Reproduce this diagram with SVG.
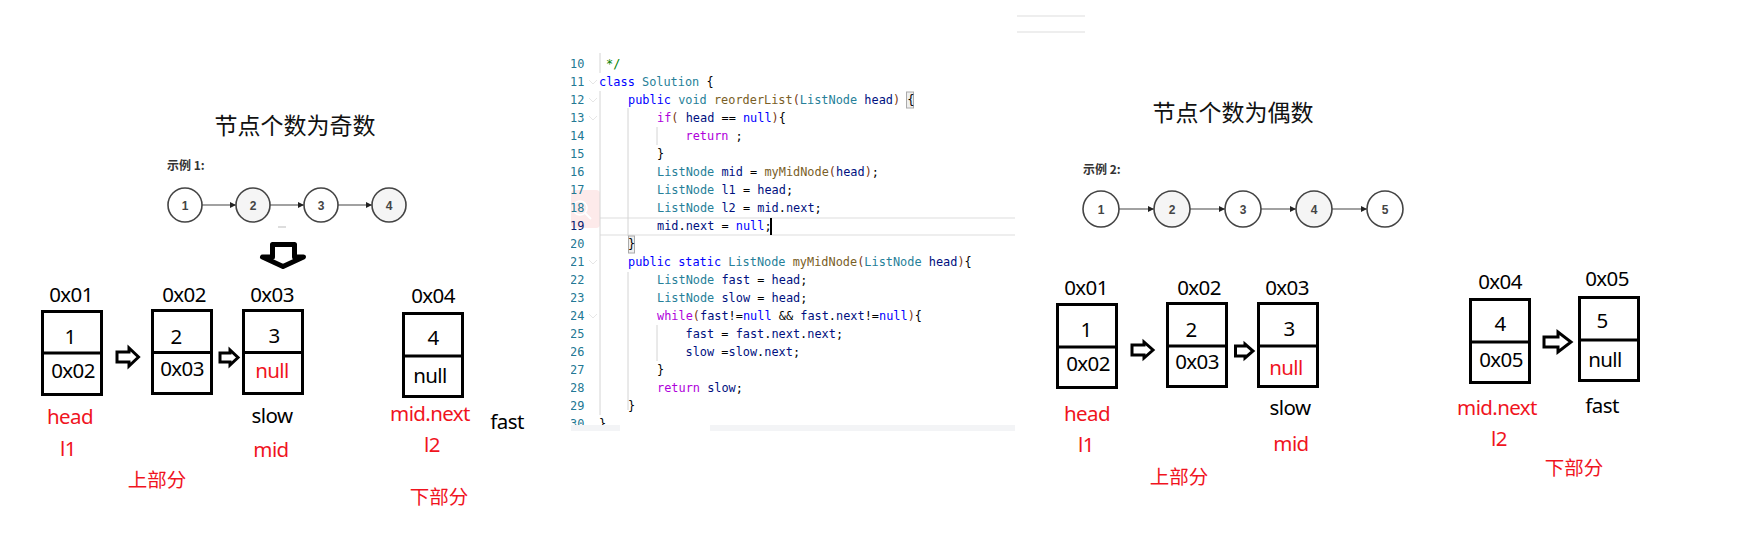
<svg xmlns="http://www.w3.org/2000/svg" width="1744" height="558" viewBox="0 0 1744 558">
<style>
.l{font:20.5px "Noto Sans","Noto Sans CJK SC",sans-serif;letter-spacing:-.6px;fill:#000;text-anchor:middle}
.r{fill:#f0141e}
.h{font:23px "Noto Sans CJK SC",sans-serif;fill:#111;text-anchor:middle}
.z{font:19.500px "Noto Sans CJK SC",sans-serif;fill:#f0141e;text-anchor:middle}
.e{font:bold 12px "Noto Sans CJK SC",sans-serif;fill:#333}
.cn{font:bold 12px "Liberation Sans",sans-serif;fill:#444;text-anchor:middle}
.box{fill:#fff;stroke:#000;stroke-width:3}
.c{fill:#fff;stroke:#444;stroke-width:1.600}
.g{fill:#f5f5f5}
.fat{fill:#fff;stroke:#000;stroke-width:3}
.big{fill:#fff;stroke:#000;stroke-width:5;stroke-linejoin:round}
.ln{stroke:#444;stroke-width:1.200;marker-end:url(#m)}
.code{font:11.900px "DejaVu Sans Mono","Liberation Mono",monospace;fill:#000}
.n{fill:#237893}
.k{fill:#0000ff}.q{fill:#af00db}.t{fill:#267f99}.f{fill:#795e26}.v{fill:#001080}.b{fill:#7b3814}.m{fill:#008000}
.gd{stroke:#d4d4d4;stroke-width:1;fill:none}
.hl{stroke:#eee;stroke-width:2;fill:none}
</style>
<defs>
<marker id="m" markerWidth="7" markerHeight="6" refX="6" refY="3" orient="auto" markerUnits="userSpaceOnUse"><path d="M0 0L6 3L0 6Z" fill="#222"/></marker>
<clipPath id="cc"><rect x="571" y="50" width="445" height="375"/></clipPath>
</defs>
<rect width="1744" height="558" fill="#fff"/>

<g id="code-panel">
<path d="M1017 16H1085M1017 32H1085" class="hl"/>
<rect x="571" y="190" width="29" height="38" rx="4" fill="#fdeaea"/>
<circle cx="580" cy="208" r="7" fill="none" stroke="#fff" stroke-width="1.500"/>
<path d="M585 213L591 219" stroke="#fff" stroke-width="2"/>
<path d="M600 218H1015M600 235H1015" class="hl"/>
<path d="M600 53V73M600 91V415M628 108V236M628 272V410M657 127V145M657 325V361" class="gd"/>
<path d="M589 80l4 4 4-4M589 98l4 4 4-4M589 116l4 4 4-4M589 260l4 4 4-4M589 314l4 4 4-4" fill="none" stroke="#e6e6e6"/>
<rect x="906.500" y="92" width="7" height="16" fill="#efefef" stroke="#aaa"/>
<rect x="628.500" y="236" width="6" height="17" fill="#efefef" stroke="#aaa"/>
<g clip-path="url(#cc)" class="code">
<text class="n" x="570" y="68">10</text>
<text class="n" x="570" y="86">11</text>
<text class="n" x="570" y="104">12</text>
<text class="n" x="570" y="122">13</text>
<text class="n" x="570" y="140">14</text>
<text class="n" x="570" y="158">15</text>
<text class="n" x="570" y="176">16</text>
<text class="n" x="570" y="194">17</text>
<text class="n" x="570" y="212">18</text>
<text x="570" y="230" style="fill:#0b216f">19</text>
<text class="n" x="570" y="248">20</text>
<text class="n" x="570" y="266">21</text>
<text class="n" x="570" y="284">22</text>
<text class="n" x="570" y="302">23</text>
<text class="n" x="570" y="320">24</text>
<text class="n" x="570" y="338">25</text>
<text class="n" x="570" y="356">26</text>
<text class="n" x="570" y="374">27</text>
<text class="n" x="570" y="392">28</text>
<text class="n" x="570" y="410">29</text>
<text class="n" x="570" y="428">30</text>
<text x="606" y="68"><tspan class="m">*/</tspan></text>
<text x="599" y="86"><tspan class="k">class</tspan> <tspan class="t">Solution</tspan> {</text>
<text x="628" y="104"><tspan class="k">public</tspan> <tspan class="t">void</tspan> <tspan class="f">reorderList</tspan><tspan class="b">(</tspan><tspan class="t">ListNode</tspan> <tspan class="v">head</tspan><tspan class="b">)</tspan> {</text>
<text x="657" y="122"><tspan class="q">if</tspan><tspan class="b">(</tspan> <tspan class="v">head</tspan> == <tspan class="k">null</tspan><tspan class="b">)</tspan>{</text>
<text x="685.500" y="140"><tspan class="q">return</tspan> ;</text>
<text x="657" y="158">}</text>
<text x="657" y="176"><tspan class="t">ListNode</tspan> <tspan class="v">mid</tspan> = <tspan class="f">myMidNode</tspan><tspan class="b">(</tspan><tspan class="v">head</tspan><tspan class="b">)</tspan>;</text>
<text x="657" y="194"><tspan class="t">ListNode</tspan> <tspan class="v">l1</tspan> = <tspan class="v">head</tspan>;</text>
<text x="657" y="212"><tspan class="t">ListNode</tspan> <tspan class="v">l2</tspan> = <tspan class="v">mid</tspan>.<tspan class="v">next</tspan>;</text>
<text x="657" y="230"><tspan class="v">mid</tspan>.<tspan class="v">next</tspan> = <tspan class="k">null</tspan>;</text>
<text x="628" y="248">}</text>
<text x="628" y="266"><tspan class="k">public</tspan> <tspan class="k">static</tspan> <tspan class="t">ListNode</tspan> <tspan class="f">myMidNode</tspan><tspan class="b">(</tspan><tspan class="t">ListNode</tspan> <tspan class="v">head</tspan><tspan class="b">)</tspan>{</text>
<text x="657" y="284"><tspan class="t">ListNode</tspan> <tspan class="v">fast</tspan> = <tspan class="v">head</tspan>;</text>
<text x="657" y="302"><tspan class="t">ListNode</tspan> <tspan class="v">slow</tspan> = <tspan class="v">head</tspan>;</text>
<text x="657" y="320"><tspan class="q">while</tspan><tspan class="b">(</tspan><tspan class="v">fast</tspan>!=<tspan class="k">null</tspan> &amp;&amp; <tspan class="v">fast</tspan>.<tspan class="v">next</tspan>!=<tspan class="k">null</tspan><tspan class="b">)</tspan>{</text>
<text x="685.500" y="338"><tspan class="v">fast</tspan> = <tspan class="v">fast</tspan>.<tspan class="v">next</tspan>.<tspan class="v">next</tspan>;</text>
<text x="685.500" y="356"><tspan class="v">slow</tspan> =<tspan class="v">slow</tspan>.<tspan class="v">next</tspan>;</text>
<text x="657" y="374">}</text>
<text x="657" y="392"><tspan class="q">return</tspan> <tspan class="v">slow</tspan>;</text>
<text x="628" y="410">}</text>
<text x="599" y="428">}</text>
</g>
<rect x="770" y="218" width="2" height="17" fill="#000"/>
<rect x="571" y="425" width="444" height="6" fill="#f3f4f6"/>
<rect x="620" y="425" width="90" height="6" fill="#fff"/>
</g>

<g id="connectors">
<path class="ln" d="M202 205H236"/><path class="ln" d="M270 205H304"/><path class="ln" d="M338 205H372"/>
<path class="ln" d="M1119 209H1154"/><path class="ln" d="M1190 209H1225"/><path class="ln" d="M1261 209H1296"/><path class="ln" d="M1332 209H1367"/>
<path class="big" d="M272.500 244.500H294.500V257H303.500L283 266.500L262.500 257H272.500Z"/>
<path class="fat" d="M117 352H129V348L138.500 357L129 366V362H117Z"/>
<path class="fat" d="M220 353H230V350L238 357.500L230 365V362H220Z"/>
<path class="fat" d="M1132 345H1144V342L1153 350L1144 358V355H1132Z"/>
<path class="fat" d="M1235.500 346H1245V344L1253 351L1245 358V356H1235.500Z"/>
<path class="fat" d="M1544 337H1558V332L1571 342L1558 352V347H1544Z"/>
</g>

<g id="title-odd"><text class="h" x="295" y="134">节点个数为奇数</text><text class="e" x="167" y="170">示例 1:</text><rect x="278" y="226.500" width="8" height="1" fill="#bbb"/></g>
<g id="ex1-1"><circle class="c" cx="185" cy="205" r="17"/><text class="cn" x="185" y="209.500">1</text></g>
<g id="ex1-2"><circle class="c g" cx="253" cy="205" r="17"/><text class="cn" x="253" y="209.500">2</text></g>
<g id="ex1-3"><circle class="c" cx="321" cy="205" r="17"/><text class="cn" x="321" y="209.500">3</text></g>
<g id="ex1-4"><circle class="c g" cx="389" cy="205" r="17"/><text class="cn" x="389" y="209.500">4</text></g>

<g id="odd-1"><text class="l" x="71" y="302">0x01</text><rect class="box" x="42.500" y="311.500" width="59" height="83"/><path class="box" d="M42 353H102"/><text class="l" x="70" y="344">1</text><text class="l" x="73" y="378">0x02</text><text class="l r" x="70" y="424">head</text><text class="l r" x="68" y="456">l1</text></g>
<g id="odd-2"><text class="l" x="184" y="302">0x02</text><rect class="box" x="152.500" y="310.500" width="59" height="83"/><path class="box" d="M152 352.500H212"/><text class="l" x="176" y="344">2</text><text class="l" x="182" y="376">0x03</text></g>
<g id="odd-3"><text class="l" x="272" y="302">0x03</text><rect class="box" x="243.500" y="310.500" width="59" height="83"/><path class="box" d="M243 352.500H303"/><text class="l" x="274" y="343">3</text><text class="l r" x="272" y="378">null</text><text class="l" x="272" y="423">slow</text><text class="l r" x="271" y="457">mid</text></g>
<g id="odd-4"><text class="l" x="433" y="303">0x04</text><rect class="box" x="403.500" y="313.500" width="59" height="83"/><path class="box" d="M403 356H463"/><text class="l" x="433" y="345">4</text><text class="l" x="430" y="383">null</text><text class="l r" x="430" y="421">mid.next</text><text class="l r" x="432" y="452">l2</text></g>
<g id="odd-labels"><text class="l" x="507" y="429">fast</text><text class="z" x="157" y="487">上部分</text><text class="z" x="439" y="504">下部分</text></g>

<g id="title-even"><text class="h" x="1233" y="121">节点个数为偶数</text><text class="e" x="1083" y="174">示例 2:</text></g>
<g id="ex2-1"><circle class="c" cx="1101" cy="209" r="18"/><text class="cn" x="1101" y="213.500">1</text></g>
<g id="ex2-2"><circle class="c g" cx="1172" cy="209" r="18"/><text class="cn" x="1172" y="213.500">2</text></g>
<g id="ex2-3"><circle class="c" cx="1243" cy="209" r="18"/><text class="cn" x="1243" y="213.500">3</text></g>
<g id="ex2-4"><circle class="c g" cx="1314" cy="209" r="18"/><text class="cn" x="1314" y="213.500">4</text></g>
<g id="ex2-5"><circle class="c" cx="1385" cy="209" r="18"/><text class="cn" x="1385" y="213.500">5</text></g>

<g id="even-1"><text class="l" x="1086" y="295">0x01</text><rect class="box" x="1057.500" y="304.500" width="59" height="83"/><path class="box" d="M1057 347H1117"/><text class="l" x="1086" y="337">1</text><text class="l" x="1088" y="371">0x02</text><text class="l r" x="1087" y="421">head</text><text class="l r" x="1086" y="452">l1</text></g>
<g id="even-2"><text class="l" x="1199" y="295">0x02</text><rect class="box" x="1167.500" y="303.500" width="59" height="83"/><path class="box" d="M1167 346H1227"/><text class="l" x="1191" y="337">2</text><text class="l" x="1197" y="369">0x03</text></g>
<g id="even-3"><text class="l" x="1287" y="295">0x03</text><rect class="box" x="1258.500" y="303.500" width="59" height="83"/><path class="box" d="M1258 346H1318"/><text class="l" x="1289" y="336">3</text><text class="l r" x="1286" y="375">null</text><text class="l" x="1290" y="415">slow</text><text class="l r" x="1291" y="451">mid</text></g>
<g id="even-4"><text class="l" x="1500" y="289">0x04</text><rect class="box" x="1470.500" y="299.500" width="59" height="83"/><path class="box" d="M1470 342H1530"/><text class="l" x="1500" y="331">4</text><text class="l" x="1501" y="367">0x05</text><text class="l r" x="1497" y="415">mid.next</text><text class="l r" x="1499" y="446">l2</text></g>
<g id="even-5"><text class="l" x="1607" y="286">0x05</text><rect class="box" x="1579.500" y="297.500" width="59" height="83"/><path class="box" d="M1579 340H1639"/><text class="l" x="1602" y="328">5</text><text class="l" x="1605" y="367">null</text><text class="l" x="1602" y="413">fast</text></g>
<g id="even-labels"><text class="z" x="1179" y="484">上部分</text><text class="z" x="1574" y="475">下部分</text></g>
</svg>
